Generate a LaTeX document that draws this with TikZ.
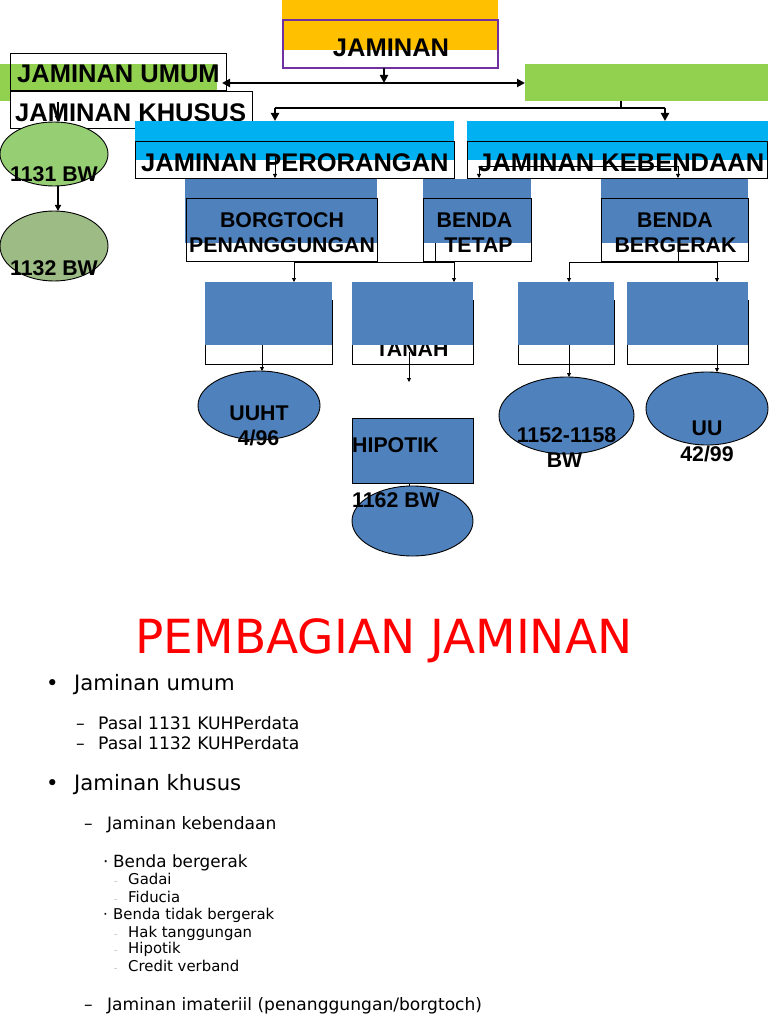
\documentclass[tikz,border=0pt]{standalone}
\usepackage{fontspec}
\newfontfamily\lsans{Liberation Sans}
\newfontfamily\dvsans{DejaVu Sans}
\usetikzlibrary{arrows.meta,shapes.geometric}
\definecolor{orangeA}{HTML}{FFC000}
\definecolor{greenA}{HTML}{92D050}
\definecolor{greenE}{HTML}{96CE74}
\definecolor{greenF}{HTML}{9DBB85}
\definecolor{cyanA}{HTML}{00B0F0}
\definecolor{blueA}{HTML}{4F81BD}
\definecolor{purpleA}{HTML}{7030A0}
\definecolor{redA}{HTML}{FF0000}
\definecolor{greyA}{HTML}{B0B0B0}
\begin{document}
\begin{tikzpicture}[x=1pt,y=-1pt,
  fillbox/.style={inner sep=0pt,outer sep=0pt,anchor=north west},
  outl/.style={draw=black,line width=0.9pt,inner sep=0pt,outer sep=0pt,anchor=north west},
  ell/.style={ellipse,draw=black,line width=0.9pt,fill=blueA,inner sep=0pt,outer sep=0pt},
  lblL/.style={font=\lsans\bfseries\fontsize{25.5}{27}\selectfont,inner sep=0pt,anchor=base west},
  lblLc/.style={font=\lsans\bfseries\fontsize{25.5}{27}\selectfont,inner sep=0pt,anchor=base},
  lbl/.style={font=\lsans\bfseries\fontsize{21.3}{23}\selectfont,inner sep=0pt,anchor=base},
  lblw/.style={font=\lsans\bfseries\fontsize{21.3}{23}\selectfont,inner sep=0pt,anchor=base west},
  bigarrow/.style={draw=black,line width=2.4pt,-{Triangle[length=8pt,width=8pt]}},
  bigline/.style={draw=black,line width=2.4pt},
  midarrow/.style={draw=black,line width=1.8pt,-{Triangle[length=6pt,width=6pt]}},
  thinarrow/.style={draw=black,line width=0.8pt,-{Triangle[length=4pt,width=4pt]}},
  thinline/.style={draw=black,line width=0.8pt},
  li1/.style={font=\dvsans\fontsize{21.2}{23}\selectfont,inner sep=0pt,anchor=base west},
  li2/.style={font=\dvsans\fontsize{17.2}{19}\selectfont,inner sep=0pt,anchor=base west},
  li2b/.style={font=\dvsans\fontsize{17.1}{19}\selectfont,inner sep=0pt,anchor=base west},
  li3/.style={font=\dvsans\fontsize{16.8}{18}\selectfont,inner sep=0pt,anchor=base west},
  li4/.style={font=\dvsans\fontsize{14.9}{16}\selectfont,inner sep=0pt,anchor=base west},
  mini/.style={font=\dvsans\fontsize{9}{10}\selectfont,text=greyA,inner sep=0pt,anchor=base west},
]
\useasboundingbox (0,0) rectangle (768,1024);
\fill[white] (0,0) rectangle (768,1024);

% ---- top JAMINAN
\node[fillbox,fill=orangeA,minimum width=216pt,minimum height=50pt] (jamfill) at (282,0) {};
\node[fillbox,draw=purpleA,line width=1.2pt,minimum width=215pt,minimum height=48pt] (jam) at (283,20) {};
\node[lblLc] (jamtxt) at (391,57) {JAMINAN};

% ---- green right
\node[fillbox,fill=greenA,minimum width=243pt,minimum height=37pt] (greenR) at (525,64) {};

% ---- left green + umum/khusus
\node[fillbox,fill=greenA,minimum width=217pt,minimum height=37pt] (greenL) at (0,64) {};
\node[outl,minimum width=216pt,minimum height=37pt] (umum) at (10,53) {};
\node[lblL] (umumtxt) at (17,83) {JAMINAN UMUM};
\node[outl,fill=white,minimum width=242pt,minimum height=37pt] (khusus) at (10,91) {};
\node[lblL] (khusustxt) at (15,122) {JAMINAN KHUSUS};

% ---- ellipses left
\node[ell,fill=greenE,minimum width=108pt,minimum height=64pt] (e1131) at (54,154) {};
\node[lblw] (t1131) at (10,182) {1131 BW};
\node[ell,fill=greenF,minimum width=108pt,minimum height=70pt] (e1132) at (54,246) {};
\node[lblw] (t1132) at (10,275) {1132 BW};

% ---- cyan boxes
\node[fillbox,fill=cyanA,minimum width=319pt,minimum height=39pt] (perfill) at (135,121) {};
\node[outl,minimum width=319pt,minimum height=37pt] (per) at (135,141) {};
\node[lblL] (pertxt) at (141,172) {JAMINAN PERORANGAN};
\node[fillbox,fill=cyanA,minimum width=301pt,minimum height=39pt] (kebfill) at (467,121) {};
\node[outl,minimum width=300pt,minimum height=37pt] (keb) at (467,141) {};
\node[lblL] (kebtxt) at (478,172) {JAMINAN KEBENDAAN};

% ---- level 2 blue boxes
\node[fillbox,fill=blueA,minimum width=192pt,minimum height=64pt] (borgfill) at (185,179) {};
\node[outl,minimum width=191pt,minimum height=63pt] (borg) at (186,198) {};
\node[lbl] (borgt1) at (282,228) {BORGTOCH};
\node[lbl] (borgt2) at (282,252) {PENANGGUNGAN};

\node[fillbox,fill=blueA,minimum width=108pt,minimum height=64pt] (tetapfill) at (423,179) {};
\node[outl,minimum width=108pt,minimum height=63pt] (tetap) at (423,198) {};
\node[lbl] (tetapt1) at (474.5,228) {BENDA};
\node[lbl] (tetapt2) at (478.5,252) {TETAP};

\node[fillbox,fill=blueA,minimum width=147pt,minimum height=64pt] (gerakfill) at (601,179) {};
\node[outl,minimum width=147pt,minimum height=63pt] (gerak) at (601,198) {};
\node[lbl] (gerakt1) at (675,228) {BENDA};
\node[lbl] (gerakt2) at (675.5,252) {BERGERAK};

% ---- level 3 boxes
\node[outl,minimum width=127pt,minimum height=64pt] (boxA) at (205,300) {};
\node[fillbox,fill=blueA,minimum width=127pt,minimum height=63pt] (boxAfill) at (205,282) {};
\node[outl,minimum width=121pt,minimum height=64pt] (boxB) at (352,300) {};
\node[lbl] (tanah) at (412,356) {TANAH};
\node[fillbox,fill=blueA,minimum width=121pt,minimum height=63pt] (boxBfill) at (352,282) {};
\node[outl,minimum width=96pt,minimum height=64pt] (boxC) at (518,300) {};
\node[fillbox,fill=blueA,minimum width=96pt,minimum height=63pt] (boxCfill) at (518,282) {};
\node[outl,minimum width=121pt,minimum height=64pt] (boxD) at (627,300) {};
\node[fillbox,fill=blueA,minimum width=121pt,minimum height=63pt] (boxDfill) at (627,282) {};

% ---- level 4
\node[ell,minimum width=122pt,minimum height=69pt] (uuht) at (259,405.5) {};
\node[lbl] (uuhtt1) at (259,420) {UUHT};
\node[lbl] (uuhtt2) at (258.5,445) {4/96};

\node[outl,fill=blueA,minimum width=121pt,minimum height=65pt] (hip) at (352,418) {};
\node[lblw] (hiptxt) at (352,452) {HIPOTIK};
\node[ell,minimum width=121pt,minimum height=70pt] (e1162) at (412.5,521) {};
\node[lblw] (t1162) at (352,507) {1162 BW};

\node[ell,minimum width=135pt,minimum height=77pt] (e1152) at (566.5,415.5) {};
\node[lbl] (t1152a) at (566.5,442) {1152-1158};
\node[lbl] (t1152b) at (564.5,467) {BW};

\node[ell,minimum width=122pt,minimum height=73pt] (euu) at (707,408.5) {};
\node[lbl] (tuu1) at (707,435) {UU};
\node[lbl] (tuu2) at (707,461) {42/99};

% ---- connectors
\coordinate (hub) at (384,83);
\draw[bigarrow] (jam.south -| hub) -- (hub);
\draw[bigarrow] (hub) -- ([xshift=-4pt]umum.east |- hub);
\draw[bigarrow] (hub) -- (greenR.west |- hub);

\coordinate (khub) at (621,108);
\draw[bigline] (greenR.south -| khub) -- (khub);
\coordinate (kL) at (275,108);
\coordinate (kR) at (665,108);
\draw[bigline] (kL) -- (kR);
\draw[bigarrow] (kL) -- (perfill.north -| kL);
\draw[bigarrow] (kR) -- (kebfill.north -| kR);

\coordinate (uk) at (58,102);
\draw[midarrow] (uk) -- (e1131.north -| uk);
\draw[midarrow] (e1131.south -| uk) -- (e1132.north -| uk);

\coordinate (pk) at (275,157);
\draw[thinarrow] (pk) -- (per.south -| pk);
\coordinate (kk1) at (479,166);
\coordinate (kk2) at (678,166);
\draw[thinline] (kk1) -- (kk2);
\draw[thinarrow] (kk1) -- (keb.south -| kk1);
\draw[thinarrow] (kk2) -- (keb.south -| kk2);

\coordinate (tj) at (435,262);
\draw[thinline] (tetapfill.south -| tj) -- (tj);
\coordinate (tL) at (294,262);
\coordinate (tR) at (454,262);
\draw[thinline] (tL) -- (tR);
\draw[thinarrow] (tL) -- (boxAfill.north -| tL);
\draw[thinarrow] (tR) -- (boxBfill.north -| tR);

\coordinate (gj) at (678,262);
\draw[thinline] (gerakfill.south -| gj) -- (gj);
\coordinate (gL) at (569,262);
\coordinate (gR) at (717,262);
\draw[thinline] (gL) -- (gR);
\draw[thinarrow] (gL) -- (boxCfill.north -| gL);
\draw[thinarrow] (gR) -- (boxDfill.north -| gR);

\coordinate (aX) at (262,345);
\draw[thinarrow] (aX) -- (uuht.north -| aX);
\coordinate (bX) at (409,352);
\coordinate (bY) at (409,382);
\draw[thinarrow] (bX) -- (bY);
\coordinate (cX) at (569,345);
\draw[thinarrow] (cX) -- (e1152.north -| cX);
\coordinate (dX) at (717,345);
\draw[thinarrow] (dX) -- (euu.north -| dX);
\coordinate (hX) at (409,483);
\draw[thinline] (hX) -- (e1162.north -| hX);

% ---- title and list
\node[font=\dvsans\fontsize{47}{50}\selectfont,text=redA,inner sep=0pt,anchor=base] (title) at (384,653) {PEMBAGIAN JAMINAN};

\node[li1] (b1) at (46,690) {•};
\node[li1] (l1) at (74,690) {Jaminan umum};
\node[li2] (d1) at (76,729) {–};
\node[li2] (l11) at (98,729) {Pasal 1131 KUHPerdata};
\node[li2] (d2) at (76,749) {–};
\node[li2] (l12) at (98,749) {Pasal 1132 KUHPerdata};
\node[li1] (b2) at (46,790) {•};
\node[li1] (l2) at (74,790) {Jaminan khusus};
\node[li2b] (d3) at (84,829) {–};
\node[li2b] (l21) at (107,829) {Jaminan kebendaan};
\node[li3] (s1) at (103,867) {·};
\node[li3] (l211) at (113,867) {Benda bergerak};
\node[mini] (m1) at (114,884) {-};
\node[li4] (l2111) at (128,884) {Gadai};
\node[mini] (m2) at (114,902) {-};
\node[li4] (l2112) at (128,902) {Fiducia};
\node[li4] (s2) at (103,919) {·};
\node[li4] (l212) at (113,919) {Benda tidak bergerak};
\node[mini] (m3) at (114,937) {-};
\node[li4] (l2121) at (128,937) {Hak tanggungan};
\node[mini] (m4) at (114,953) {-};
\node[li4] (l2122) at (128,953) {Hipotik};
\node[mini] (m5) at (114,971) {-};
\node[li4] (l2123) at (128,971) {Credit verband};
\node[li2b] (d4) at (84,1010) {–};
\node[li2b] (l22) at (107,1010) {Jaminan imateriil (penanggungan/borgtoch)};
\end{tikzpicture}
\end{document}
